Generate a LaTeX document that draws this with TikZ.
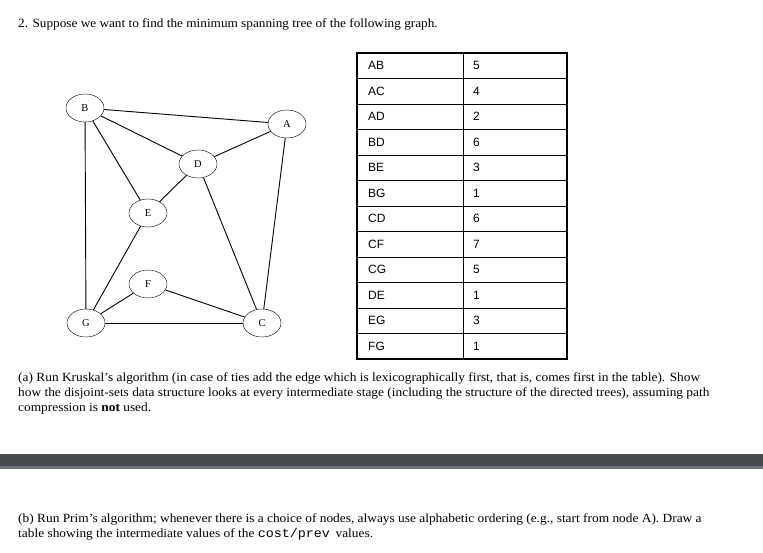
\documentclass[tikz,border=0pt]{standalone}
\usepackage{fontspec}
\setmainfont{Liberation Serif}
\newfontfamily\tabfont{Liberation Sans}
\newfontfamily\monofont{Liberation Mono}
\usetikzlibrary{shapes.geometric}
\tikzset{
  vert/.style={draw,ellipse,minimum width=38pt,minimum height=28pt,inner sep=0pt,font=\fontsize{10.5}{11}\selectfont},
  edge/.style={line width=0.9pt},
  txt/.style={anchor=west,inner sep=0pt,font=\fontsize{12.5}{15}\selectfont,transform shape},
  cell/.style={anchor=west,inner sep=0pt,font=\tabfont\fontsize{12}{14}\selectfont}
}
\begin{document}
\begin{tikzpicture}[x=1pt,y=-1pt]
\useasboundingbox (0,0) rectangle (763,553);
\begin{scope}[xscale=1.06]
\node[txt] (title) at (18/1.06,24) {2. Suppose we want to find the minimum spanning tree of the following graph.};
\end{scope}
% graph
\node[vert] (B) at (85,108) {B};
\node[vert] (A) at (287,124) {A};
\node[vert] (D) at (198,164) {D};
\node[vert] (E) at (148,213) {E};
\node[vert] (F) at (148,284) {F};
\node[vert] (G) at (86,323) {G};
\node[vert] (C) at (262,323) {C};
\foreach \u/\v in {A/B,A/C,A/D,B/D,B/E,B/G,C/D,C/F,C/G,D/E,E/G,F/G}
  \draw[edge] (\u) -- (\v);
% table
\foreach \e/\w [count=\i] in {AB/5,AC/4,AD/2,BD/6,BE/3,BG/1,CD/6,CF/7,CG/5,DE/1,EG/3,FG/1}{
  \pgfmathsetmacro{\ya}{53+(\i-1)*25.5}
  \pgfmathsetmacro{\ym}{\ya+12.75}
  \draw[line width=0.9pt] (357,\ya) rectangle (567,\ya+25.5);
  \node[cell] (e\i) at (368,\ym) {\e};
  \node[cell] (w\i) at (473,\ym) {\w};
}
\draw[line width=0.9pt] (463,53) -- (463,359);
\draw[line width=2pt] (357,53) rectangle (567,359);
\begin{scope}[xscale=1.07]
\node[txt] (pa1) at (18/1.07,378) {(a) Run Kruskal's algorithm (in case of ties add the edge which is lexicographically first, that is, comes first in the table). Show};
\node[txt] (pa2) at (18/1.07,393) {how the disjoint-sets data structure looks at every intermediate stage (including the structure of the directed trees), assuming path};
\node[txt] (pa3) at (18/1.07,408) {compression is \textbf{not} used.};
\node[txt] (pb1) at (18/1.07,519) {(b) Run Prim's algorithm; whenever there is a choice of nodes, always use alphabetic ordering (e.g., start from node A). Draw a};
\node[txt] (pb2) at (18/1.07,534) {table showing the intermediate values of the {\monofont cost/prev}\, values.};
\end{scope}
% bar
\fill[fill={rgb,255:red,70;green,74;blue,78}] (0,454) rectangle (763,469);
\fill[fill={rgb,255:red,110;green,114;blue,118}] (0,466) rectangle (763,469);
\end{tikzpicture}
\end{document}
